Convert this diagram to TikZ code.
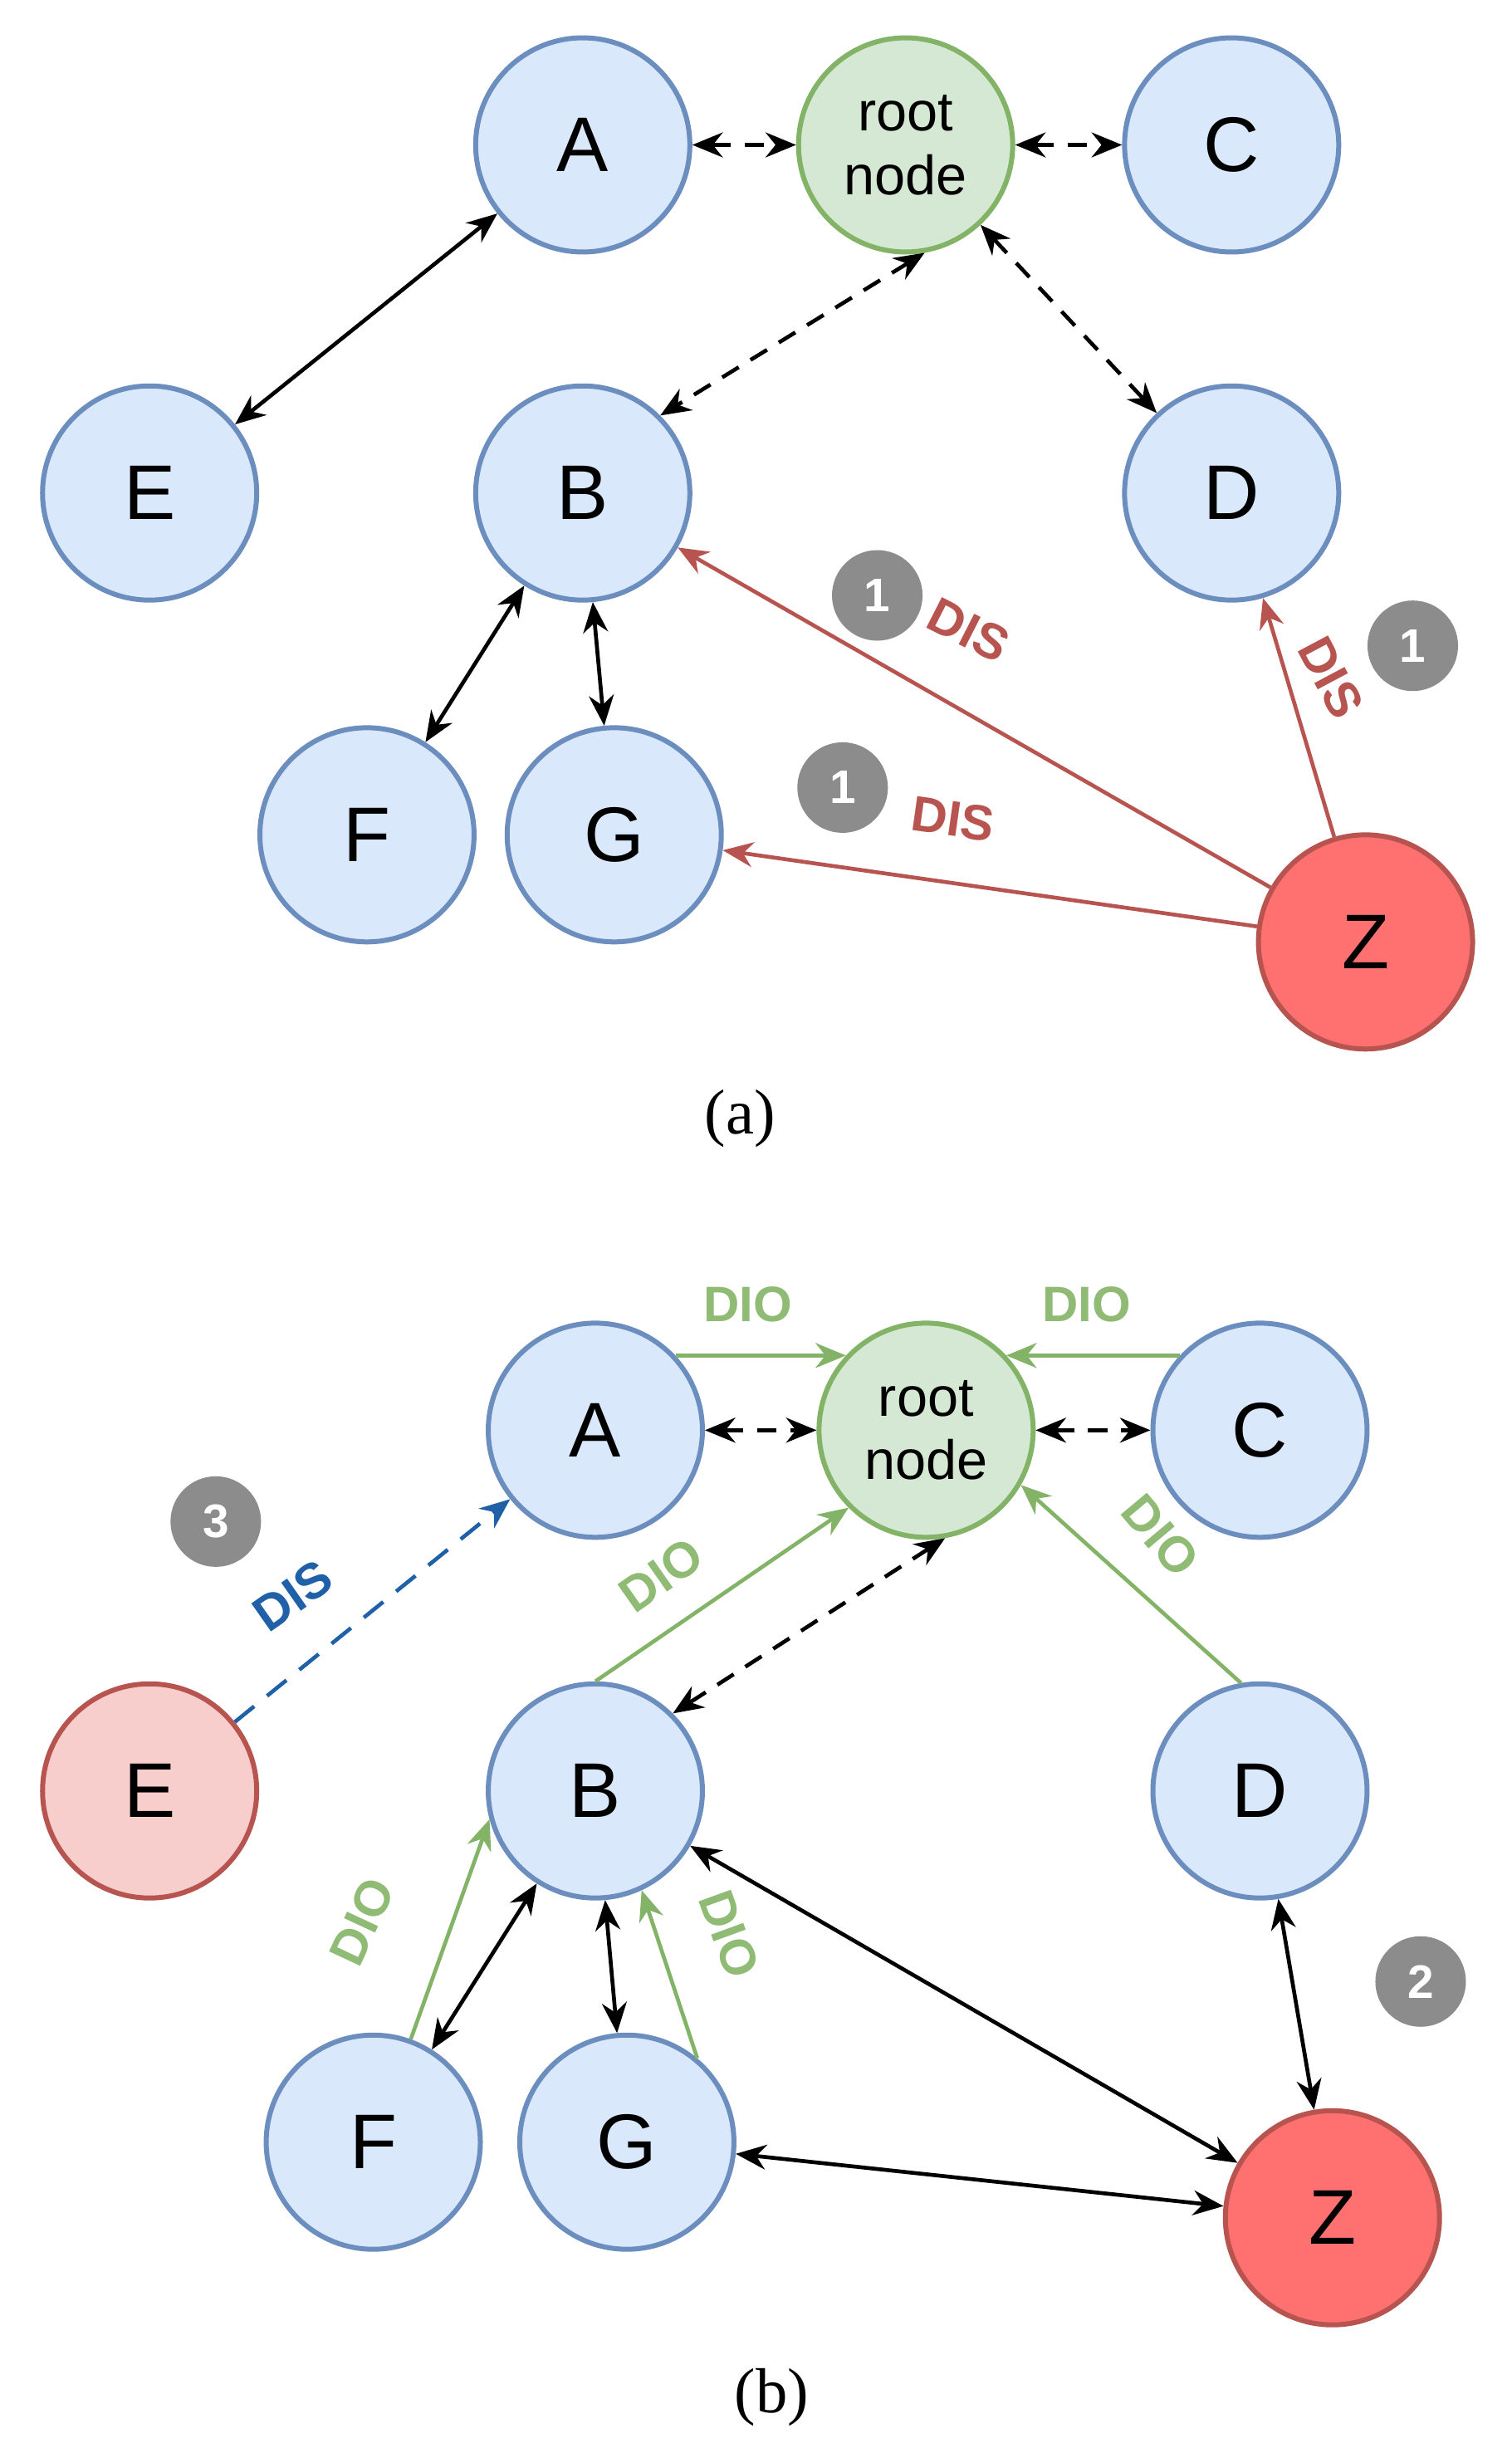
\documentclass[tikz,border=0pt]{standalone}
\usepackage{fontspec}
\setmainfont{Liberation Sans}
\newfontfamily\capserif{Liberation Serif}
\usetikzlibrary{arrows.meta}
\definecolor{bfill}{HTML}{DAE8FC}\definecolor{bline}{HTML}{6C8EBF}
\definecolor{gfill}{HTML}{D5E8D4}\definecolor{gline}{HTML}{82B366}
\definecolor{rfill}{HTML}{FF7070}\definecolor{rline}{HTML}{B85450}
\definecolor{pfill}{HTML}{F8CECC}\definecolor{dblue}{HTML}{2060A8}
\definecolor{badge}{HTML}{8C8C8C}
\begin{document}
\begin{tikzpicture}[x=0.02cm,y=-0.02cm,
 n/.style={circle,minimum size=2.72cm,line width=1.8pt,draw=bline,fill=bfill,font=\fontsize{28}{30}\selectfont,inner sep=0},
 rt/.style={n,draw=gline,fill=gfill,font=\fontsize{20}{23}\selectfont,align=center},
 zz/.style={n,draw=rline,fill=rfill},
 ee/.style={n,draw=rline,fill=pfill},
 bi/.style={line width=1.4pt,{Stealth[length=11pt,width=9pt]}-{Stealth[length=11pt,width=9pt]}},
 bd/.style={bi,dash pattern=on 7pt off 5pt},
 ra/.style={line width=1.4pt,draw=rline,-{Stealth[length=11pt,width=9pt]}},
 ga/.style={line width=1.4pt,draw=gline,-{Stealth[length=11pt,width=9pt]}},
 lr/.style={text=rline,font=\bfseries\fontsize{18}{20}\selectfont,inner sep=1pt},
 lg/.style={text=gline!90!white,font=\bfseries\fontsize{18}{20}\selectfont,inner sep=1pt},
 bdg/.style={circle,fill=badge,text=white,minimum size=1.15cm,inner sep=0,font=\bfseries\fontsize{17}{19}\selectfont},
 captxt/.style={font=\capserif\fontsize{23}{25}\selectfont}]
\useasboundingbox (0,0) rectangle (960,1551);
% (a)
\node[n] (A) at (370,92) {A};
\node[rt] (R) at (575,92) {root\\node};
\node[n] (C) at (782,92) {C};
\node[n] (E) at (95,313) {E};
\node[n] (B) at (370,313) {B};
\node[n] (D) at (782,313) {D};
\node[n] (F) at (233,530) {F};
\node[n] (G) at (390,530) {G};
\node[zz] (Z) at (867,598) {Z};
\draw[bd] (A) -- (R);
\draw[bd] (R) -- (C);
\draw[bi] (A) -- (E);
\draw[bd] (R.-80) -- (B.45);
\draw[bd] (R) -- (D);
\draw[bi] (B) -- (F);
\draw[bi] (B) -- (G);
\draw[ra] (Z) -- (B);
\draw[ra] (Z) -- (G);
\draw[ra] (Z) -- (D);
\node[lr,rotate=-27] (l1) at (615,400) {DIS};
\node[lr,rotate=-8] (l2) at (605,520) {DIS};
\node[lr,rotate=-62] (l3) at (845,430) {DIS};
\node[bdg] (b1) at (557,378) {1};
\node[bdg] (b2) at (897,410) {1};
\node[bdg] (b3) at (535,500) {1};
\node[captxt] (ca) at (470,710) {(a)};
% (b)
\node[n] (A2) at (378,908) {A};
\node[rt] (R2) at (588,908) {root\\node};
\node[n] (C2) at (800,908) {C};
\node[ee] (E2) at (95,1137) {E};
\node[n] (B2) at (378,1137) {B};
\node[n] (D2) at (800,1137) {D};
\node[n] (F2) at (237,1360) {F};
\node[n] (G2) at (398,1360) {G};
\node[zz] (Z2) at (846,1408) {Z};
\draw[bd] (A2) -- (R2);
\draw[bd] (R2) -- (C2);
\draw[bd] (R2.-80) -- (B2.45);
\draw[ga] (A2.43) -- (R2.137);
\draw[ga] (C2.137) -- (R2.43);
\draw[ga] (B2.90) -- (R2.225);
\draw[ga] (D2.100) -- (R2.-30);
\draw[ga] (F2.70) -- (B2.195);
\draw[ga] (G2.50) -- (B2.-65);
\draw[line width=1.4pt,draw=dblue,dash pattern=on 9pt off 6pt,-{Stealth[length=11pt,width=9pt]}] (E2) -- (A2);
\draw[bi] (B2) -- (F2);
\draw[bi] (B2) -- (G2);
\draw[bi] (B2) -- (Z2);
\draw[bi] (G2) -- (Z2);
\draw[bi] (D2) -- (Z2);
\node[lg] (d1) at (475,828) {DIO};
\node[lg] (d2) at (690,828) {DIO};
\node[lg,rotate=35] (d3) at (420,1000) {DIO};
\node[lg,rotate=-50] (d4) at (737,975) {DIO};
\node[lg,rotate=65] (d5) at (230,1220) {DIO};
\node[lg,rotate=-70] (d6) at (463,1228) {DIO};
\node[text=dblue,font=\bfseries\fontsize{18}{20}\selectfont,rotate=35,inner sep=1pt] (d7) at (186,1013) {DIS};
\node[bdg] (b4) at (137,966) {3};
\node[bdg] (b5) at (902,1258) {2};
\node[captxt] (cb) at (490,1522) {(b)};
\end{tikzpicture}
\end{document}
